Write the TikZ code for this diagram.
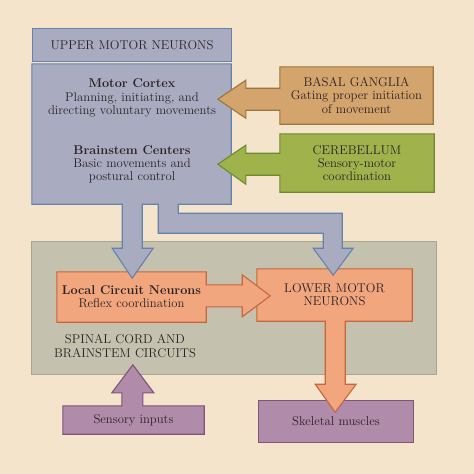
\documentclass[tikz,border=0pt]{standalone}
\usetikzlibrary{calc}
\pgfdeclarelayer{background}
\pgfsetlayers{background,main}
\definecolor{cream}{HTML}{F4E4CC}
\definecolor{bluefill}{HTML}{A9ACC0}
\definecolor{blueline}{HTML}{6482AE}
\definecolor{tanfill}{HTML}{D3A46C}
\definecolor{tanline}{HTML}{9C7440}
\definecolor{greenfill}{HTML}{9FB24C}
\definecolor{greenline}{HTML}{6E8A2E}
\definecolor{grayfill}{HTML}{C5C1AF}
\definecolor{grayline}{HTML}{A9A593}
\definecolor{orfill}{HTML}{F1A67E}
\definecolor{orline}{HTML}{C8653F}
\definecolor{purfill}{HTML}{B18BAA}
\definecolor{purline}{HTML}{7D5577}
\definecolor{ink}{HTML}{2A2225}
\begin{document}
\begin{tikzpicture}[x=1pt,y=-1pt,
  every node/.style={text=ink,font=\fontsize{12.7}{13.2}\selectfont,align=center,inner sep=0pt},
  shapeline/.style={line width=1.1pt,line join=miter},
  blueshape/.style={shapeline,fill=bluefill,draw=blueline},
  tanshape/.style={shapeline,fill=tanfill,draw=tanline},
  greenshape/.style={shapeline,fill=greenfill,draw=greenline},
  grayshape/.style={shapeline,fill=grayfill,draw=grayline},
  orshape/.style={shapeline,fill=orfill,draw=orline},
  purshape/.style={shapeline,fill=purfill,draw=purline}]
\useasboundingbox (0,0) rectangle (474,474);
% box nodes
\node[minimum width=198pt,minimum height=32pt] (header) at (132,45) {UPPER MOTOR NEURONS};
\node[minimum width=199pt,minimum height=140pt] (upper) at (131.5,134) {};
\node (mc) at (132,98) {\textbf{Motor Cortex}\\Planning, initiating, and\\directing voluntary movements};
\node (bs) at (132,164) {\textbf{Brainstem Centers}\\Basic movements and\\postural control};
\node[minimum width=153pt,minimum height=57pt] (bg) at (356.5,95.5) {BASAL GANGLIA\\Gating proper initiation\\of movement};
\node[minimum width=154pt,minimum height=58pt] (cb) at (357,163) {CEREBELLUM\\Sensory-motor\\coordination};
\node[minimum width=404pt,minimum height=132pt] (sc) at (234,308) {};
\node (sctext) at (125,346) {SPINAL CORD AND\\BRAINSTEM CIRCUITS};
\node[minimum width=149pt,minimum height=50pt] (lc) at (131.5,297) {\textbf{Local Circuit Neurons}\\Reflex coordination};
\node[minimum width=155pt,minimum height=52pt] (lmn) at (334.5,295) {LOWER MOTOR\\NEURONS};
\node[minimum width=141pt,minimum height=28pt] (si) at (133.5,420) {Sensory inputs};
\node[minimum width=154pt,minimum height=41pt] (sm) at (336,421.5) {Skeletal muscles};
\begin{pgfonlayer}{background}
\fill[cream] (0,0) rectangle (474,474);
% spinal cord and brainstem circuits
\draw[grayshape] (sc.north west) rectangle (sc.south east);
% sensory inputs with up arrow
\draw[purshape] (si.south west) -- (si.north west) -- ++(59,0) -- ++(0,-13) -- ++(-10,0)
  -- ++(21,-28) -- ++(21,28) -- ++(-11,0) -- ++(0,13) -- (si.north east) -- (si.south east) -- cycle;
% skeletal muscles
\draw[purshape] (sm.north west) rectangle (sm.south east);
% lower motor neurons with down arrow
\draw[orshape] (lmn.north west) -- (lmn.north east) -- (lmn.south east) -- ++(-67,0) -- ++(0,63)
  -- ++(11,0) -- ++(-21,28) -- ++(-20,-28) -- ++(10,0) -- ++(0,-63) -- (lmn.south west) -- cycle;
% local circuit neurons with right arrow
\draw[orshape] (lc.north west) -- (lc.north east) -- ++(0,13) -- ++(36,0) -- ++(0,-10)
  -- ++(28,21) -- ++(-28,21) -- ++(0,-10) -- ++(-36,0) -- (lc.south east) -- (lc.south west) -- cycle;
% upper motor neurons body with two down arrows
\draw[blueshape] (upper.north west) -- (upper.north east) -- (upper.south east) -- ++(-53,0) -- ++(0,9)
  -- ++(164,0) -- ++(0,35) -- ++(11,0) -- ++(-20,27) -- ++(-20,-27) -- ++(10,0) -- ++(0,-15)
  -- ++(-165,0) -- ++(0,-29) -- ++(-16,0) -- ++(0,44) -- ++(11,0) -- ++(-21,30) -- ++(-20,-30)
  -- ++(10,0) -- ++(0,-44) -- (upper.south west) -- cycle;
\draw[blueshape] (header.north west) rectangle (header.south east);
% basal ganglia with left arrow
\draw[tanshape] (bg.north west) -- (bg.north east) -- (bg.south east) -- (bg.south west) -- ++(0,-14)
  -- ++(-34,0) -- ++(0,8) -- ++(-28,-19) -- ++(28,-19) -- ++(0,8) -- ++(34,0) -- cycle;
% cerebellum with left arrow
\draw[greenshape] (cb.north west) -- (cb.north east) -- (cb.south east) -- (cb.south west) -- ++(0,-17)
  -- ++(-34,0) -- ++(0,9) -- ++(-28,-20) -- ++(28,-19) -- ++(0,8) -- ++(34,0) -- cycle;
\end{pgfonlayer}
\end{tikzpicture}
\end{document}
